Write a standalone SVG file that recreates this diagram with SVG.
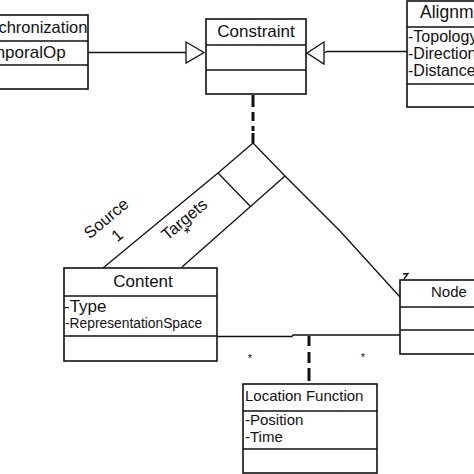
<svg xmlns="http://www.w3.org/2000/svg" width="474" height="474" viewBox="0 0 474 474">
<style>
.box{fill:#fff;stroke:#111;stroke-width:1.6}
.div{stroke:#111;stroke-width:1.6}
.ln{fill:none;stroke:#111;stroke-width:1.3}
.dash{fill:none;stroke:#111;stroke-width:3}
.tri{fill:#fff;stroke:#111;stroke-width:1.3}
text{font-family:"Liberation Sans",Arial,sans-serif;fill:#111}
.t{font-size:17px}
.a{font-size:16.5px}
.s{font-size:15px}
.r{font-size:16.5px}
.al{font-size:16px}
</style>
<rect width="474" height="474" fill="#fff"/>
<g id="connectors">
  <line class="ln" x1="88" y1="52.5" x2="187" y2="52.5"/>
  <polygon class="tri" points="186,42 204,52.5 186,63"/>
  <polygon class="tri" points="324,42 307,53 324,64"/>
  <polyline class="ln" points="324,53 327,51.5 407,51.5"/>
  <polyline class="dash" points="253,95 253,143" stroke-dasharray="12,5,9,5,5,2,12"/>
  <polyline class="ln" points="253,143 218,173 103,268"/>
  <polyline class="ln" points="253,143 285,176 340,231 400,297"/>
  <line class="ln" x1="182" y1="267" x2="285" y2="176"/>
  <line class="ln" x1="218" y1="173" x2="251" y2="207"/>
  <path class="ln" d="M403,274 L408,273.5 L404,279"/>
  <polyline class="ln" points="217,336.5 292,336.5 293,335 400,335"/>
  <line class="dash" x1="309" y1="336" x2="309" y2="381" stroke-dasharray="10,6,11,5,13"/>
  <text class="r" transform="translate(106,218) rotate(-40)" text-anchor="middle" y="6">Source</text>
  <text class="r" transform="translate(117,235) rotate(-40)" text-anchor="middle" y="6">1</text>
  <text class="r" transform="translate(184,219) rotate(-40)" text-anchor="middle" y="6">Targets</text>
  <text class="r" transform="translate(188,231) rotate(-40)" text-anchor="middle" y="7">*</text>
  <text font-size="11" x="250" y="362" text-anchor="middle">*</text>
  <text font-size="11" x="363" y="361" text-anchor="middle">*</text>
</g>
<g id="synchronization">
  <rect class="box" x="-2" y="15" width="90" height="74"/>
  <line class="div" x1="-2" y1="41" x2="88" y2="41"/>
  <line class="div" x1="-2" y1="65" x2="88" y2="65"/>
  <text class="a" x="-30" y="33">Synchronization</text>
  <text class="t" x="-27" y="58">TemporalOp</text>
</g>
<g id="constraint">
  <rect class="box" x="206" y="19" width="100" height="75"/>
  <line class="div" x1="206" y1="45" x2="306" y2="45"/>
  <line class="div" x1="206" y1="70" x2="306" y2="70"/>
  <text class="t" x="256" y="37" text-anchor="middle">Constraint</text>
</g>
<g id="alignment">
  <rect class="box" x="407" y="1" width="80" height="106"/>
  <line class="div" x1="407" y1="27" x2="474" y2="27"/>
  <line class="div" x1="407" y1="84" x2="474" y2="84"/>
  <text font-size="17.5" x="420" y="18">Alignment</text>
  <text class="al" x="408" y="42">-Topology</text>
  <text class="al" x="408" y="59">-Direction</text>
  <text class="al" x="408" y="76">-Distance</text>
</g>
<g id="content">
  <rect class="box" x="64" y="268" width="153" height="93"/>
  <line class="div" x1="64" y1="296" x2="217" y2="296"/>
  <line class="div" x1="64" y1="336" x2="217" y2="336"/>
  <text class="t" x="143" y="287" text-anchor="middle">Content</text>
  <text class="t" x="64" y="312">-Type</text>
  <text font-size="13.8" x="65" y="328">-RepresentationSpace</text>
</g>
<g id="node">
  <rect class="box" x="400" y="280" width="80" height="74"/>
  <line class="div" x1="400" y1="307" x2="474" y2="307"/>
  <line class="div" x1="400" y1="330" x2="474" y2="330"/>
  <text class="s" x="431" y="297">Node</text>
</g>
<g id="location-function">
  <rect class="box" x="243" y="384" width="134" height="89"/>
  <line class="div" x1="243" y1="411" x2="377" y2="411"/>
  <line class="div" x1="243" y1="449" x2="377" y2="449"/>
  <text class="s" x="245" y="401">Location Function</text>
  <text class="s" x="245" y="425">-Position</text>
  <text class="s" x="245" y="442">-Time</text>
</g>
</svg>
